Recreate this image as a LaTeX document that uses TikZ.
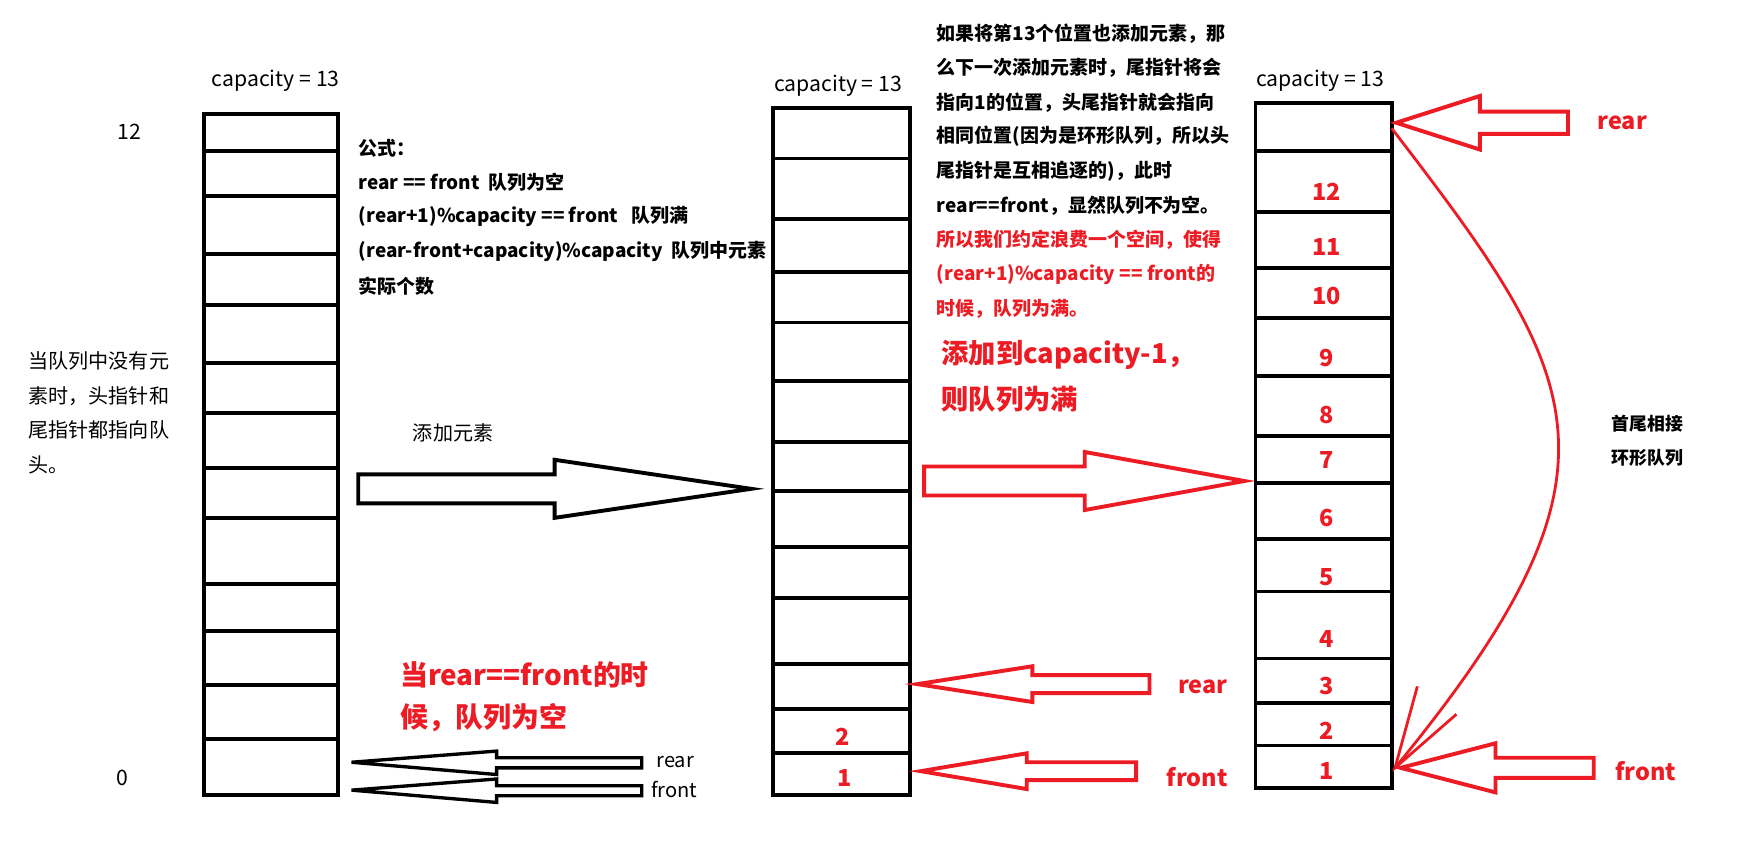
\documentclass[tikz,border=0pt]{standalone}
\usepackage{fontspec}
\setmainfont{Noto Sans CJK SC}
\newcommand\hollow[7]{% color, tipx, y, basex, tailx, halfshaft, halfhead
\draw[#1,line width=3.5pt,line join=miter] (#2,#3) -- (#4,{#3-#7}) -- (#4,{#3-#6}) -- (#5,{#3-#6}) -- (#5,{#3+#6}) -- (#4,{#3+#6}) -- (#4,{#3+#7}) -- cycle;}
\newcommand\column[3]{% x1, x2, list of y
\foreach \yy in {#3} {\draw[line width=3.5pt] (#1,\yy) -- (#2,\yy);}}
\begin{document}
\begin{tikzpicture}[x=1pt,y=-1pt,
  lbl/.style={font=\fontsize{19}{21}\selectfont},
  bb/.style={font=\fontsize{17}{19}\selectfont\bfseries,anchor=west},
  rbig/.style={font=\fontsize{25}{28}\selectfont\bfseries,text=red,anchor=west},
  num/.style={font=\fontsize{21}{23}\selectfont\bfseries,text=red}]
\definecolor{red}{RGB}{237,28,36}
\useasboundingbox[fill=white] (0,0) rectangle (1560,767);
% column 1
\draw[line width=3.5pt] (183,102) rectangle (303,712);
\column{183}{303}{135,176,228,273,325,370,419,464,523,565,614,662}
\node[lbl] (c1) at (247,72) {capacity = 13};
\node[lbl] (n12) at (116,118) {12};
\node[lbl] (n0) at (110,697) {0};
\node[lbl,font=\fontsize{18}{20}\selectfont,anchor=west,align=left] (empty) at (22,370) {当队列中没有元\\[11pt]素时，头指针和\\[11pt]尾指针都指向队\\[11pt]头。};
\node[bb] (f1) at (318,133) {公式：};
\node[bb] (f2) at (318,163) {rear == front\ \ 队列为空};
\node[bb] (f3) at (318,194) {(rear+1)\%capacity == front\ \ \ 队列满};
\node[bb] (f4) at (318,225) {(rear-front+capacity)\%capacity\ \ 队列中元素};
\node[bb] (f5) at (318,256) {实际个数};
\node[lbl,font=\fontsize{18}{20}\selectfont] (add) at (406,388) {添加元素};
\hollow{black}{673}{438}{497}{321}{13}{26}
\node[rbig] (e1) at (355,605) {当rear==front的时};
\node[rbig] (e2) at (355,643) {候，队列为空};
\draw[line width=3pt] (315,683) -- (445,673) -- (445,679) -- (575,679) -- (575,688) -- (445,688) -- (445,694) -- cycle;
\draw[line width=3pt] (315,708) -- (445,698) -- (445,704) -- (575,704) -- (575,713) -- (445,713) -- (445,719) -- cycle;
\node[lbl,font=\fontsize{18}{20}\selectfont] (r1) at (605,683) {rear};
\node[lbl,font=\fontsize{18}{20}\selectfont] (fr1) at (604,707) {front};
% column 2
\draw[line width=3.5pt] (693,97) rectangle (815,712);
\column{693}{815}{142,196,244,289,341,396,440,490,536,595,635,675}
\node[lbl] (c2) at (751,77) {capacity = 13};
\node[num] at (755,660) {2};
\node[num] at (757,697) {1};
\hollow{red}{822}{613}{925}{1030}{8}{16}
\node[rbig,font=\fontsize{21}{23}\selectfont\bfseries] (r2) at (1052,615) {rear};
\hollow{red}{825}{691}{920}{1018}{8}{16}
\node[rbig,font=\fontsize{21}{23}\selectfont\bfseries] (fr2) at (1042,696) {front};
\hollow{red}{1115}{431}{972}{828}{13}{26}
\node[rbig,font=\fontsize{24.5}{27}\selectfont\bfseries] (g1) at (840,318) {添加到capacity-1，};
\node[rbig,font=\fontsize{24.5}{27}\selectfont\bfseries] (g2) at (840,358) {则队列为满};
\node[bb] (t1) at (836,30) {如果将第13个位置也添加元素，那};
\node[bb] (t2) at (836,61) {么下一次添加元素时，尾指针将会};
\node[bb] (t3) at (836,92) {指向1的位置，头尾指针就会指向};
\node[bb] (t4) at (836,122) {相同位置(因为是环形队列，所以头};
\node[bb] (t5) at (836,153) {尾指针是互相追逐的)，此时};
\node[bb] (t6) at (836,184) {rear==front，显然队列不为空。};
\node[bb,text=red] (t7) at (836,215) {所以我们约定浪费一个空间，使得};
\node[bb,text=red] (t8) at (836,246) {(rear+1)\%capacity == front的};
\node[bb,text=red] (t9) at (836,277) {时候，队列为满。};
% column 3
\draw[line width=3.5pt] (1125,92) rectangle (1247,706);
\column{1125}{1247}{135,190,240,285,337,391,433,483,530,590,630,668}
\node[lbl] (c3) at (1183,72) {capacity = 13};
\foreach \t/\y in {12/172,11/221,10/265,9/321,8/372,7/412,6/464,5/517,4/573,3/615,2/655,1/691}
  \node[num] at (1189,\y) {\t};
\hollow{red}{1251}{110}{1326}{1405}{10}{24}
\node[rbig,font=\fontsize{21}{23}\selectfont\bfseries] (r3) at (1428,110) {rear};
\hollow{red}{1255}{688}{1340}{1428}{9}{22}
\node[rbig,font=\fontsize{21}{23}\selectfont\bfseries] (fr3) at (1444,691) {front};
\draw[red,line width=2.5pt] (1247,115) .. controls (1420,340) and (1470,420) .. (1250,688);
\draw[red,line width=2.5pt] (1270,615) -- (1250,688) -- (1305,640);
\node[bb,font=\fontsize{16}{18}\selectfont\bfseries,anchor=center] (q1) at (1476,380) {首尾相接};
\node[bb,font=\fontsize{16}{18}\selectfont\bfseries,anchor=center] (q2) at (1476,410) {环形队列};
\end{tikzpicture}
\end{document}
